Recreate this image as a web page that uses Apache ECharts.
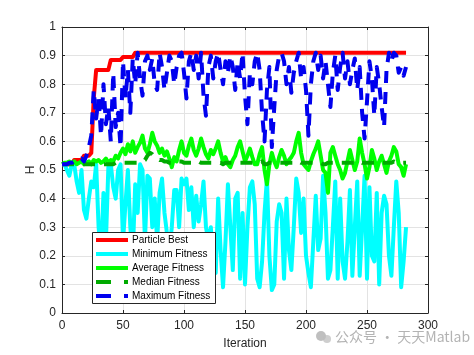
<!DOCTYPE html>
<html>
<head>
<meta charset="utf-8">
<script src="https://cdn.jsdelivr.net/npm/echarts@6/dist/echarts.min.js"></script>
<style>html,body{margin:0;padding:0;background:#fff;}#c{width:474px;height:355px;}</style>
</head>
<body>
<div id="c"></div>
<script>
const iterations = [0,2,4,6,8,10,12,14,16,18,20,22,24,26,28,30,32,34,36,38,40,42,44,46,48,50,52,54,56,58,60,62,64,66,68,70,72,74,76,78,80,82,84,86,88,90,92,94,96,98,100,102,104,106,108,110,112,114,116,118,120,122,124,126,128,130,132,134,136,138,140,142,144,146,148,150,152,154,156,158,160,162,164,166,168,170,172,174,176,178,180,182,184,186,188,190,192,194,196,198,200,202,204,206,208,210,212,214,216,218,220,222,224,226,228,230,232,234,236,238,240,242,244,246,248,250,252,254,256,258,260,262,264,266,268,270,272,274,276,278,280,282];
const xTicks = [0,50,100,150,200,250,300];
const yTicks = [0,0.1,0.2,0.3,0.4,0.5,0.6,0.7,0.8,0.9,1];
const seriesNames = ['Particle Best','Minimum Fitness','Average Fitness','Median Fitness','Maximum Fitness'];
const seriesColors = ['#ff0000','#00ffff','#00ff00','#00aa00','#0000ee'];
const seriesDashed = [false,false,false,true,true];

const particleBest = [
0.52,0.52,0.52,0.52,0.52, 0.535,0.535,0.535,0.535,0.55, 0.55,0.55,0.56,0.75,0.85, 0.85,0.85,0.85,0.85,0.85,
0.885,0.885,0.885,0.885,0.885, 0.895,0.895,0.895,0.895,0.895, 0.91,0.91,0.91,0.91,0.91, 0.91,0.91,0.91,0.91,0.91,
0.91,0.91,0.91,0.91,0.91, 0.91,0.91,0.91,0.91,0.91, 0.91,0.91,0.91,0.91,0.91, 0.91,0.91,0.91,0.91,0.91,
0.91,0.91,0.91,0.91,0.91, 0.91,0.91,0.91,0.91,0.91, 0.91,0.91,0.91,0.91,0.91, 0.91,0.91,0.91,0.91,0.91,
0.91,0.91,0.91,0.91,0.91, 0.91,0.91,0.91,0.91,0.91, 0.91,0.91,0.91,0.91,0.91, 0.91,0.91,0.91,0.91,0.91,
0.91,0.91,0.91,0.91,0.91, 0.91,0.91,0.91,0.91,0.91, 0.91,0.91,0.91,0.91,0.91, 0.91,0.91,0.91,0.91,0.91,
0.91,0.91,0.91,0.91,0.91, 0.91,0.91,0.91,0.91,0.91, 0.91,0.91,0.91,0.91,0.91, 0.91,0.91,0.91,0.91,0.91,
0.91,0.91];

const minimumFitness = [
0.52,0.52,0.50,0.48,0.52, 0.52,0.46,0.42,0.50,0.36, 0.33,0.40,0.46,0.44,0.52, 0.30,0.20,0.42,0.25,0.51,
0.52,0.44,0.40,0.50,0.52, 0.25,0.38,0.50,0.30,0.20, 0.45,0.35,0.52,0.50,0.25, 0.48,0.47,0.30,0.40,0.25,
0.42,0.47,0.35,0.28,0.22, 0.30,0.43,0.43,0.30,0.47, 0.45,0.47,0.36,0.44,0.30, 0.41,0.32,0.38,0.46,0.30,
0.25,0.30,0.18,0.14,0.40, 0.22,0.09,0.25,0.45,0.30, 0.15,0.40,0.42,0.12,0.35, 0.10,0.30,0.44,0.46,0.38,
0.12,0.09,0.18,0.35,0.47, 0.20,0.08,0.10,0.32,0.38, 0.35,0.12,0.40,0.22,0.15, 0.30,0.47,0.42,0.28,0.40,
0.20,0.14,0.09,0.25,0.41, 0.22,0.26,0.48,0.35,0.12, 0.15,0.30,0.46,0.12,0.40, 0.18,0.12,0.25,0.43,0.13,
0.30,0.46,0.13,0.30,0.48, 0.12,0.44,0.20,0.18,0.42, 0.10,0.35,0.41,0.38,0.20, 0.13,0.30,0.46,0.35,0.09,
0.18,0.30];

const averageFitness = [
0.52,0.525,0.525,0.53,0.525, 0.53,0.52,0.525,0.53,0.52, 0.525,0.53,0.52,0.535,0.53, 0.535,0.525,0.53,0.54,0.525,
0.535,0.53,0.55,0.54,0.56, 0.575,0.555,0.59,0.565,0.60, 0.56,0.58,0.595,0.62,0.575, 0.56,0.59,0.63,0.60,0.585,
0.56,0.575,0.55,0.565,0.54, 0.51,0.545,0.53,0.57,0.60, 0.56,0.55,0.585,0.61,0.57, 0.55,0.575,0.61,0.58,0.555,
0.54,0.57,0.555,0.575,0.60, 0.56,0.53,0.545,0.52,0.51, 0.535,0.55,0.58,0.60,0.565, 0.53,0.55,0.575,0.545,0.52,
0.52,0.555,0.58,0.50,0.45, 0.52,0.56,0.53,0.51,0.545, 0.57,0.55,0.52,0.535,0.545, 0.56,0.60,0.63,0.56,0.52,
0.51,0.50,0.53,0.555,0.575, 0.60,0.55,0.50,0.49,0.42, 0.56,0.58,0.55,0.52,0.50, 0.47,0.49,0.53,0.57,0.535,
0.50,0.53,0.61,0.56,0.52, 0.47,0.51,0.57,0.54,0.50, 0.53,0.55,0.52,0.49,0.53, 0.55,0.58,0.565,0.52,0.51,
0.48,0.52];

const medianFitness = [
0.52,0.52,0.52,0.52,0.52, 0.52,0.52,0.52,0.52,0.52, 0.52,0.52,0.52,0.52,0.52, 0.52,0.52,0.52,0.52,0.52,
0.52,0.52,0.525,0.525,0.525, 0.525,0.525,0.525,0.525,0.525, 0.525,0.525,0.525,0.53,0.535, 0.55,0.56,0.555,0.545,0.54,
0.535,0.535,0.53,0.53,0.525, 0.525,0.525,0.525,0.53,0.53, 0.525,0.525,0.525,0.525,0.525, 0.525,0.53,0.525,0.525,0.525,
0.525,0.525,0.525,0.525,0.525, 0.525,0.52,0.525,0.525,0.525, 0.525,0.525,0.525,0.525,0.525, 0.525,0.525,0.525,0.525,0.525,
0.525,0.525,0.53,0.52,0.52, 0.525,0.525,0.525,0.525,0.525, 0.525,0.525,0.525,0.525,0.525, 0.525,0.53,0.53,0.525,0.525,
0.525,0.525,0.525,0.525,0.525, 0.525,0.525,0.52,0.52,0.525, 0.525,0.525,0.525,0.525,0.525, 0.525,0.525,0.525,0.525,0.525,
0.525,0.525,0.53,0.525,0.525, 0.525,0.525,0.525,0.525,0.525, 0.525,0.525,0.525,0.525,0.525, 0.525,0.53,0.525,0.525,0.525,
0.525,0.525];

const maximumFitness = [
0.52,0.52,0.52,0.525,0.525, 0.53,0.53,0.535,0.54,0.53, 0.55,0.58,0.62,0.78,0.68, 0.75,0.62,0.80,0.66,0.72,
0.60,0.84,0.65,0.70,0.58, 0.88,0.75,0.85,0.70,0.89, 0.80,0.91,0.82,0.76,0.88, 0.90,0.85,0.89,0.80,0.78,
0.91,0.86,0.78,0.84,0.90, 0.88,0.80,0.86,0.90,0.91, 0.84,0.75,0.88,0.91,0.85, 0.90,0.82,0.91,0.76,0.69,
0.86,0.90,0.82,0.88,0.91, 0.85,0.80,0.88,0.84,0.90, 0.86,0.78,0.88,0.82,0.91, 0.76,0.66,0.84,0.80,0.88,
0.91,0.85,0.70,0.60,0.78, 0.86,0.58,0.72,0.85,0.90, 0.91,0.88,0.80,0.86,0.77, 0.84,0.88,0.91,0.82,0.86,
0.78,0.62,0.80,0.88,0.91, 0.85,0.90,0.82,0.88,0.80, 0.72,0.84,0.90,0.78,0.86, 0.91,0.82,0.88,0.80,0.85,
0.89,0.78,0.86,0.70,0.61, 0.74,0.88,0.82,0.69,0.86, 0.80,0.72,0.65,0.85,0.91, 0.88,0.91,0.90,0.84,0.86,
0.83,0.86];

const FONT = '"Liberation Sans", Arial, sans-serif';
const AX = '#262626';
const DASH = [12, 9];
const pairs = vals => vals.map((v, i) => [iterations[i], v]);

const chart = echarts.init(document.getElementById('c'), null, {renderer: 'canvas'});

function mkSeries(idx, vals) {
  return {
    name: seriesNames[idx], type: 'line', data: pairs(vals), symbol: 'none', showSymbol: false,
    xAxisIndex: 0, yAxisIndex: 0, animation: false, silent: true,
    lineStyle: {color: seriesColors[idx], width: 4, type: seriesDashed[idx] ? DASH : 'solid', join: 'round', cap: 'butt'},
    itemStyle: {color: seriesColors[idx]}
  };
}

// Legend drawn as a MATLAB-like box
const LEG = {x: 92, y: 232, w: 123, h: 71, row0: 240, step: 14};
const legendGraphics = [
  {type: 'rect', shape: {x: LEG.x + 0.5, y: LEG.y + 0.5, width: LEG.w, height: LEG.h},
   style: {fill: '#fff', stroke: AX, lineWidth: 1}, z: 50}
];
seriesNames.forEach((n, i) => {
  const yy = LEG.row0 + i * LEG.step;
  legendGraphics.push({type: 'line', shape: {x1: 96, y1: yy, x2: 128, y2: yy},
    style: {stroke: seriesColors[i], lineWidth: 4, lineDash: seriesDashed[i] ? [15, 13] : null}, z: 51});
  legendGraphics.push({type: 'text', x: 132, y: yy, z: 51,
    style: {text: n, fill: '#000', font: '10px "Liberation Sans", Arial, sans-serif', verticalAlign: 'middle', align: 'left'}});
});

const option = {
  backgroundColor: '#fff',
  animation: false,
  grid: {left: 62, top: 27, width: 366, height: 288, containLabel: false},
  xAxis: [
    {type: 'value', position: 'bottom', min: xTicks[0], max: xTicks[xTicks.length-1], interval: 50,
     name: 'Iteration', nameLocation: 'middle', nameGap: 25, nameMoveOverlap: false,
     nameTextStyle: {fontFamily: FONT, fontSize: 12, color: AX},
     axisLine: {show: true, onZero: false, lineStyle: {color: AX, width: 1}},
     axisTick: {show: true, inside: true, length: 3, lineStyle: {color: AX}},
     axisLabel: {margin: 7, fontFamily: FONT, fontSize: 12, color: AX},
     splitLine: {show: true, lineStyle: {color: '#e3e3e3', width: 1}}},
    {type: 'value', position: 'top', min: xTicks[0], max: xTicks[xTicks.length-1], interval: 50,
     axisLine: {show: true, onZero: false, lineStyle: {color: AX, width: 1}},
     axisTick: {show: true, inside: true, length: 3, lineStyle: {color: AX}},
     axisLabel: {show: false}, splitLine: {show: false}}
  ],
  yAxis: [
    {type: 'value', position: 'left', min: yTicks[0], max: yTicks[yTicks.length-1], interval: 0.1,
     name: 'H', nameLocation: 'middle', nameGap: 25, nameRotate: 90, nameMoveOverlap: false,
     nameTextStyle: {fontFamily: FONT, fontSize: 12, color: AX},
     axisLine: {show: true, onZero: false, lineStyle: {color: AX, width: 1}},
     axisTick: {show: true, inside: true, length: 3, lineStyle: {color: AX}},
     axisLabel: {margin: 6, fontFamily: FONT, fontSize: 12, color: AX,
       formatter: v => (Math.round(v * 10) / 10).toString()},
     splitLine: {show: true, lineStyle: {color: '#e3e3e3', width: 1}}},
    {type: 'value', position: 'right', min: yTicks[0], max: yTicks[yTicks.length-1], interval: 0.1,
     axisLine: {show: true, onZero: false, lineStyle: {color: AX, width: 1}},
     axisTick: {show: true, inside: true, length: 3, lineStyle: {color: AX}},
     axisLabel: {show: false}, splitLine: {show: false}}
  ],
  series: [0, 1, 2, 3, 4].map(i => mkSeries(i, [particleBest, minimumFitness, averageFitness, medianFitness, maximumFitness][i])),
  graphic: legendGraphics.concat([
    {type: 'circle', left: 316, top: 331, shape: {r: 5}, style: {fill: 'rgba(170,170,170,0.75)'}, z: 100},
    {type: 'circle', left: 323, top: 335, shape: {r: 4}, style: {fill: 'rgba(190,190,190,0.75)'}, z: 100},
    {type: 'text', left: 335, top: 330, z: 100,
     style: {text: '公众号 · 天天Matlab', fill: 'rgba(160,160,160,0.8)',
       font: '14px "Noto Sans CJK SC", sans-serif'}}
  ])
};
chart.setOption(option);
</script>
</body>
</html>
